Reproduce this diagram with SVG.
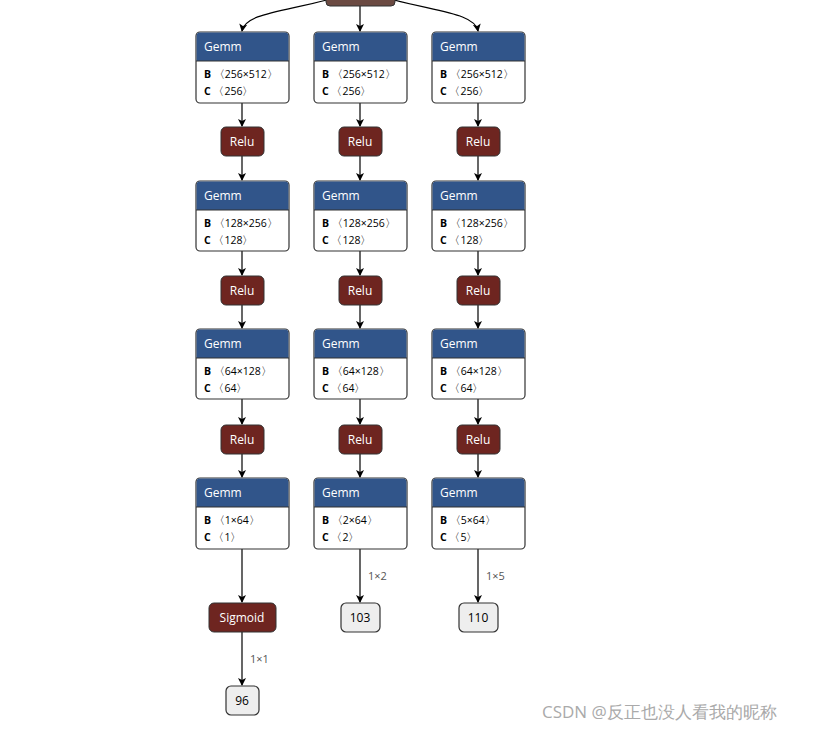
<svg xmlns="http://www.w3.org/2000/svg" width="829" height="732" viewBox="0 0 829 732">
<defs>
<style>
text{font-family:"Open Sans","DejaVu Sans",sans-serif;}
.box{fill:#fff;stroke:#333;stroke-width:1.2}
.hdr{fill:#31558a}
.ht{fill:#fff;font-size:12px}
.at{font-size:10.5px;fill:#000}
.relu{fill:#6e2520;stroke:#333;stroke-width:1}
.rt{fill:#fff;font-size:12px;text-anchor:middle}
.out{fill:#eee;stroke:#333;stroke-width:1.2}
.ot{fill:#000;font-size:12px;text-anchor:middle}
.e{stroke:#000;stroke-width:1.2;fill:none;marker-end:url(#a)}
.lb{font-size:11px;fill:#555}
</style>
<marker id="a" markerWidth="8" markerHeight="8" refX="7" refY="4" orient="auto" markerUnits="userSpaceOnUse"><path d="M0,0 L8,4 L0,8 L2,4z" fill="#000"/></marker>
</defs>
<rect width="829" height="732" fill="#fff"/>
<g id="edges">
<path class="e" d="M327,0 C280,12 245,14 242,31"/>
<path class="e" d="M360,6 L360,31"/>
<path class="e" d="M394,0 C440,12 475,14 478,31"/>
<path class="e" d="M242,103 L242,126"/><path class="e" d="M360,103 L360,126"/><path class="e" d="M478,103 L478,126"/>
<path class="e" d="M242,156 L242,180"/><path class="e" d="M360,156 L360,180"/><path class="e" d="M478,156 L478,180"/>
<path class="e" d="M242,251 L242,275"/><path class="e" d="M360,251 L360,275"/><path class="e" d="M478,251 L478,275"/>
<path class="e" d="M242,305 L242,328"/><path class="e" d="M360,305 L360,328"/><path class="e" d="M478,305 L478,328"/>
<path class="e" d="M242,399 L242,424"/><path class="e" d="M360,399 L360,424"/><path class="e" d="M478,399 L478,424"/>
<path class="e" d="M242,454 L242,477"/><path class="e" d="M360,454 L360,477"/><path class="e" d="M478,454 L478,477"/>
<path class="e" d="M242,549 L242,602"/><path class="e" d="M360,549 L360,602"/><path class="e" d="M478,549 L478,602"/>
<path class="e" d="M242,632 L242,685"/>
<text class="lb" x="368" y="580">1×2</text>
<text class="lb" x="486" y="580">1×5</text>
<text class="lb" x="250" y="663">1×1</text>
</g>
<g id="input"><rect x="326" y="-10" width="69" height="16" rx="4" fill="#6b4a42" stroke="#333"/></g>
<g id="gemm_r1">
<g id="g1a"><rect class="box" x="196" y="32" width="93" height="71" rx="4"/><path class="hdr" d="M196.6,61 V36 a3.4,3.4 0 0 1 3.4,-3.4 H285 a3.4,3.4 0 0 1 3.4,3.4 V61z"/><line x1="196" y1="61" x2="289" y2="61" stroke="#333"/><text class="ht" x="204" y="51">Gemm</text><text class="at" x="204" y="78"><tspan font-weight="bold">B</tspan> 〈256×512〉</text><text class="at" x="204" y="95"><tspan font-weight="bold">C</tspan> 〈256〉</text></g>
<g id="g1b"><rect class="box" x="314" y="32" width="93" height="71" rx="4"/><path class="hdr" d="M314.6,61 V36 a3.4,3.4 0 0 1 3.4,-3.4 H403 a3.4,3.4 0 0 1 3.4,3.4 V61z"/><line x1="314" y1="61" x2="407" y2="61" stroke="#333"/><text class="ht" x="322" y="51">Gemm</text><text class="at" x="322" y="78"><tspan font-weight="bold">B</tspan> 〈256×512〉</text><text class="at" x="322" y="95"><tspan font-weight="bold">C</tspan> 〈256〉</text></g>
<g id="g1c"><rect class="box" x="432" y="32" width="93" height="71" rx="4"/><path class="hdr" d="M432.6,61 V36 a3.4,3.4 0 0 1 3.4,-3.4 H521 a3.4,3.4 0 0 1 3.4,3.4 V61z"/><line x1="432" y1="61" x2="525" y2="61" stroke="#333"/><text class="ht" x="440" y="51">Gemm</text><text class="at" x="440" y="78"><tspan font-weight="bold">B</tspan> 〈256×512〉</text><text class="at" x="440" y="95"><tspan font-weight="bold">C</tspan> 〈256〉</text></g>
</g>
<g id="gemm_r2">
<g id="g2a"><rect class="box" x="196" y="181" width="93" height="70" rx="4"/><path class="hdr" d="M196.6,210 V185 a3.4,3.4 0 0 1 3.4,-3.4 H285 a3.4,3.4 0 0 1 3.4,3.4 V210z"/><line x1="196" y1="210" x2="289" y2="210" stroke="#333"/><text class="ht" x="204" y="200">Gemm</text><text class="at" x="204" y="227"><tspan font-weight="bold">B</tspan> 〈128×256〉</text><text class="at" x="204" y="244"><tspan font-weight="bold">C</tspan> 〈128〉</text></g>
<g id="g2b"><rect class="box" x="314" y="181" width="93" height="70" rx="4"/><path class="hdr" d="M314.6,210 V185 a3.4,3.4 0 0 1 3.4,-3.4 H403 a3.4,3.4 0 0 1 3.4,3.4 V210z"/><line x1="314" y1="210" x2="407" y2="210" stroke="#333"/><text class="ht" x="322" y="200">Gemm</text><text class="at" x="322" y="227"><tspan font-weight="bold">B</tspan> 〈128×256〉</text><text class="at" x="322" y="244"><tspan font-weight="bold">C</tspan> 〈128〉</text></g>
<g id="g2c"><rect class="box" x="432" y="181" width="93" height="70" rx="4"/><path class="hdr" d="M432.6,210 V185 a3.4,3.4 0 0 1 3.4,-3.4 H521 a3.4,3.4 0 0 1 3.4,3.4 V210z"/><line x1="432" y1="210" x2="525" y2="210" stroke="#333"/><text class="ht" x="440" y="200">Gemm</text><text class="at" x="440" y="227"><tspan font-weight="bold">B</tspan> 〈128×256〉</text><text class="at" x="440" y="244"><tspan font-weight="bold">C</tspan> 〈128〉</text></g>
</g>
<g id="gemm_r3">
<g id="g3a"><rect class="box" x="196" y="329" width="93" height="70" rx="4"/><path class="hdr" d="M196.6,358 V333 a3.4,3.4 0 0 1 3.4,-3.4 H285 a3.4,3.4 0 0 1 3.4,3.4 V358z"/><line x1="196" y1="358" x2="289" y2="358" stroke="#333"/><text class="ht" x="204" y="348">Gemm</text><text class="at" x="204" y="375"><tspan font-weight="bold">B</tspan> 〈64×128〉</text><text class="at" x="204" y="392"><tspan font-weight="bold">C</tspan> 〈64〉</text></g>
<g id="g3b"><rect class="box" x="314" y="329" width="93" height="70" rx="4"/><path class="hdr" d="M314.6,358 V333 a3.4,3.4 0 0 1 3.4,-3.4 H403 a3.4,3.4 0 0 1 3.4,3.4 V358z"/><line x1="314" y1="358" x2="407" y2="358" stroke="#333"/><text class="ht" x="322" y="348">Gemm</text><text class="at" x="322" y="375"><tspan font-weight="bold">B</tspan> 〈64×128〉</text><text class="at" x="322" y="392"><tspan font-weight="bold">C</tspan> 〈64〉</text></g>
<g id="g3c"><rect class="box" x="432" y="329" width="93" height="70" rx="4"/><path class="hdr" d="M432.6,358 V333 a3.4,3.4 0 0 1 3.4,-3.4 H521 a3.4,3.4 0 0 1 3.4,3.4 V358z"/><line x1="432" y1="358" x2="525" y2="358" stroke="#333"/><text class="ht" x="440" y="348">Gemm</text><text class="at" x="440" y="375"><tspan font-weight="bold">B</tspan> 〈64×128〉</text><text class="at" x="440" y="392"><tspan font-weight="bold">C</tspan> 〈64〉</text></g>
</g>
<g id="gemm_r4">
<g id="g4a"><rect class="box" x="196" y="478" width="93" height="71" rx="4"/><path class="hdr" d="M196.6,507 V482 a3.4,3.4 0 0 1 3.4,-3.4 H285 a3.4,3.4 0 0 1 3.4,3.4 V507z"/><line x1="196" y1="507" x2="289" y2="507" stroke="#333"/><text class="ht" x="204" y="497">Gemm</text><text class="at" x="204" y="524"><tspan font-weight="bold">B</tspan> 〈1×64〉</text><text class="at" x="204" y="541"><tspan font-weight="bold">C</tspan> 〈1〉</text></g>
<g id="g4b"><rect class="box" x="314" y="478" width="93" height="71" rx="4"/><path class="hdr" d="M314.6,507 V482 a3.4,3.4 0 0 1 3.4,-3.4 H403 a3.4,3.4 0 0 1 3.4,3.4 V507z"/><line x1="314" y1="507" x2="407" y2="507" stroke="#333"/><text class="ht" x="322" y="497">Gemm</text><text class="at" x="322" y="524"><tspan font-weight="bold">B</tspan> 〈2×64〉</text><text class="at" x="322" y="541"><tspan font-weight="bold">C</tspan> 〈2〉</text></g>
<g id="g4c"><rect class="box" x="432" y="478" width="93" height="71" rx="4"/><path class="hdr" d="M432.6,507 V482 a3.4,3.4 0 0 1 3.4,-3.4 H521 a3.4,3.4 0 0 1 3.4,3.4 V507z"/><line x1="432" y1="507" x2="525" y2="507" stroke="#333"/><text class="ht" x="440" y="497">Gemm</text><text class="at" x="440" y="524"><tspan font-weight="bold">B</tspan> 〈5×64〉</text><text class="at" x="440" y="541"><tspan font-weight="bold">C</tspan> 〈5〉</text></g>
</g>
<g id="relus">
<g id="r1a"><rect class="relu" x="221" y="127" width="43" height="29" rx="5"/><text class="rt" x="242" y="146">Relu</text></g>
<g id="r1b"><rect class="relu" x="339" y="127" width="43" height="29" rx="5"/><text class="rt" x="360" y="146">Relu</text></g>
<g id="r1c"><rect class="relu" x="457" y="127" width="43" height="29" rx="5"/><text class="rt" x="478" y="146">Relu</text></g>
<g id="r2a"><rect class="relu" x="221" y="276" width="43" height="29" rx="5"/><text class="rt" x="242" y="295">Relu</text></g>
<g id="r2b"><rect class="relu" x="339" y="276" width="43" height="29" rx="5"/><text class="rt" x="360" y="295">Relu</text></g>
<g id="r2c"><rect class="relu" x="457" y="276" width="43" height="29" rx="5"/><text class="rt" x="478" y="295">Relu</text></g>
<g id="r3a"><rect class="relu" x="221" y="425" width="43" height="29" rx="5"/><text class="rt" x="242" y="444">Relu</text></g>
<g id="r3b"><rect class="relu" x="339" y="425" width="43" height="29" rx="5"/><text class="rt" x="360" y="444">Relu</text></g>
<g id="r3c"><rect class="relu" x="457" y="425" width="43" height="29" rx="5"/><text class="rt" x="478" y="444">Relu</text></g>
</g>
<g id="sigmoid"><rect class="relu" x="209" y="603" width="67" height="29" rx="5"/><text class="rt" x="242" y="622">Sigmoid</text></g>
<g id="o96"><rect class="out" x="226" y="686" width="33" height="29" rx="5"/><text class="ot" x="242" y="705">96</text></g>
<g id="o103"><rect class="out" x="341" y="603" width="39" height="29" rx="5"/><text class="ot" x="360" y="622">103</text></g>
<g id="o110"><rect class="out" x="459" y="603" width="39" height="29" rx="5"/><text class="ot" x="478" y="622">110</text></g>
<text x="542" y="718" font-size="17" fill="#aaa" font-family="'Noto Sans CJK SC',sans-serif">CSDN @反正也没人看我的昵称</text>
</svg>
